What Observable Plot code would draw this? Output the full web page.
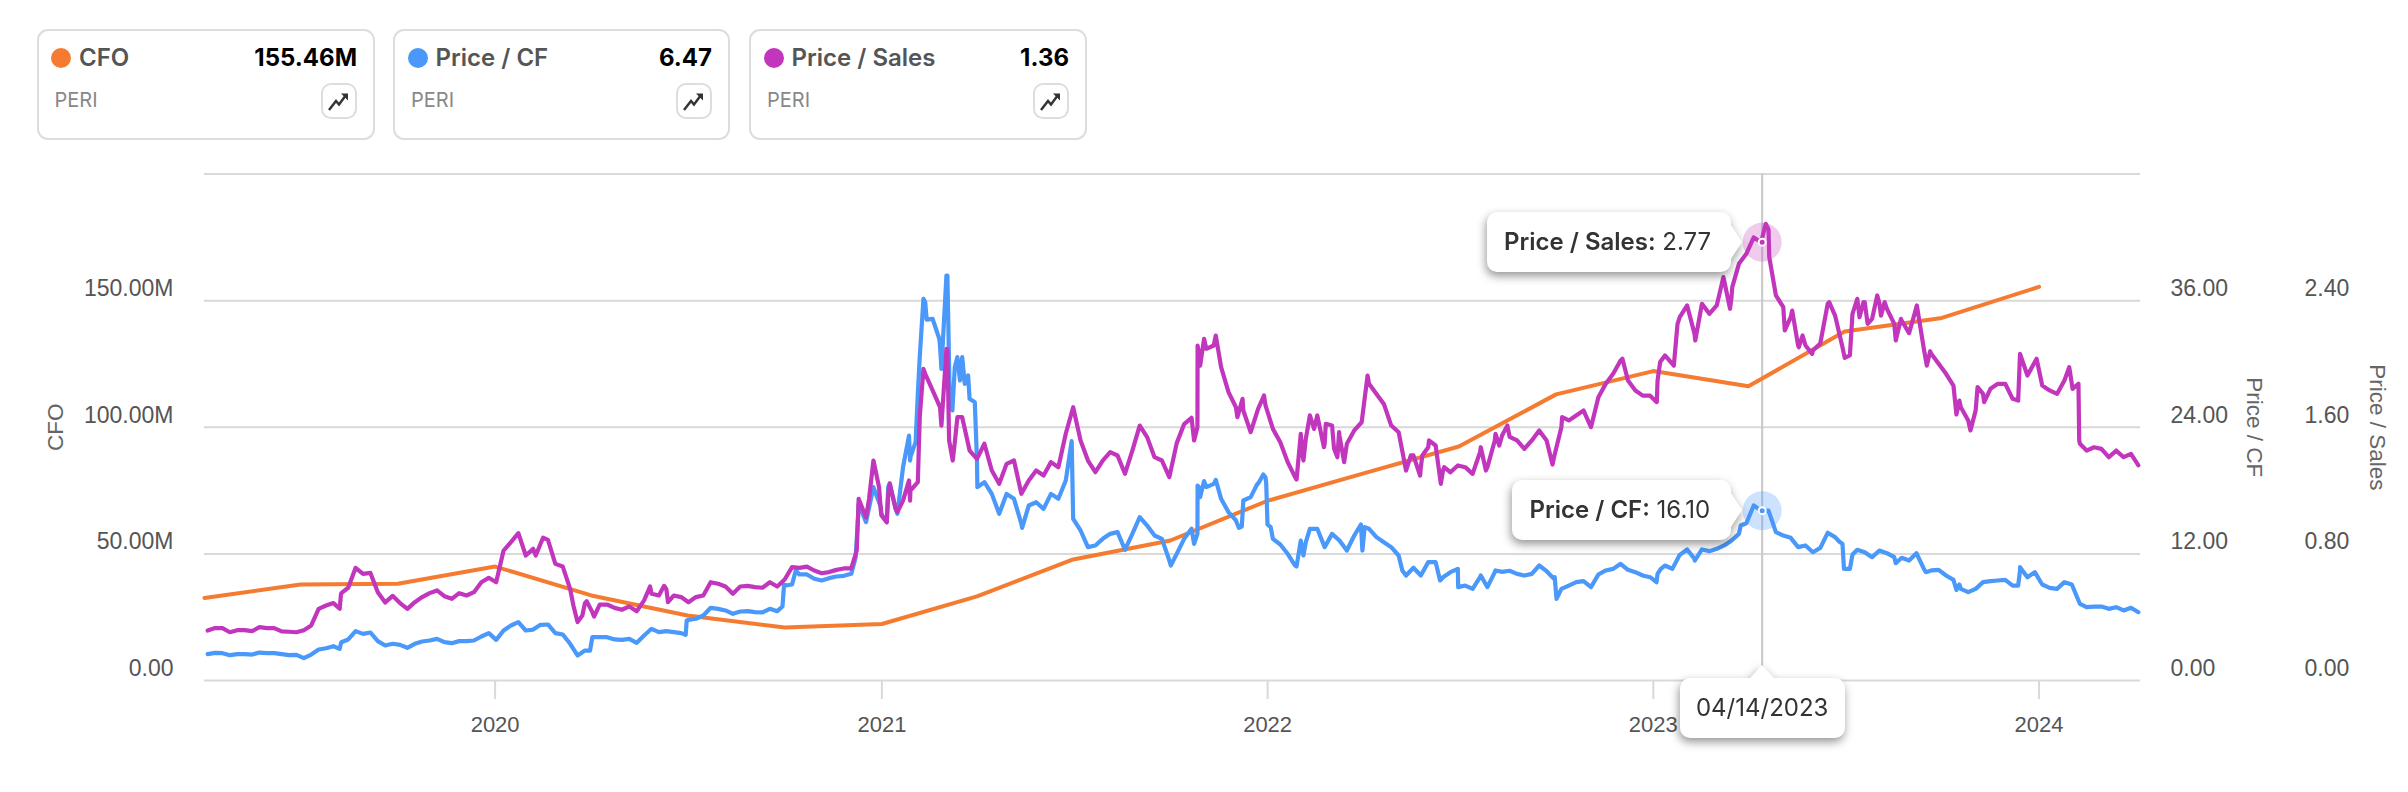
<!DOCTYPE html>
<html><head><meta charset="utf-8">
<script src="https://cdn.jsdelivr.net/npm/d3@7"></script>
<script src="https://cdn.jsdelivr.net/npm/@observablehq/plot@0.6"></script>
<style>
html,body{margin:0;background:#fff;width:2408px;height:792px;overflow:hidden}
body{position:relative;font-family:Inter,sans-serif}
.card{position:absolute;top:29px;height:111px;box-sizing:border-box;border:2px solid #ddd;border-radius:11px;background:#fff}
.dot{position:absolute;left:12.5px;top:16.5px;width:20px;height:20px;border-radius:50%}
.name{position:absolute;left:40.5px;top:12px;font-size:24px;line-height:30px;font-weight:600;color:#555}
.val{position:absolute;right:16px;top:12px;font-size:24px;line-height:30px;font-weight:700;color:#000}
.tk{position:absolute;left:16px;top:56px;font-size:20px;line-height:26px;color:#888}
.btn{position:absolute;right:16px;top:52px;width:36px;height:36px;box-sizing:border-box;border:2px solid #ddd;border-radius:10px;background:#fff}
.btn svg{position:absolute;left:4px;top:4px}
#chart{position:absolute;left:0;top:150px;width:2408px}
#chart svg{display:block}
.tip{position:absolute;height:60px;box-sizing:border-box;background:#fff;border-radius:10px;color:#333;font-size:24px;line-height:60px;white-space:nowrap;filter:drop-shadow(-1px 4px 5px rgba(0,0,0,.42));}
.tip b{font-weight:600}
.tip.side::after{content:"";position:absolute;right:-11px;top:13px;border-top:17px solid transparent;border-bottom:17px solid transparent;border-left:11px solid #fff}
.tip.date::after{content:"";position:absolute;left:50%;margin-left:-12px;top:-13px;border-left:12px solid transparent;border-right:12px solid transparent;border-bottom:13px solid #fff}
</style></head><body>
<div id="cards"></div>
<div id="chart"></div>
<script>
const cardTitles = ["CFO", "Price / CF", "Price / Sales"];
const cardValues = ["155.46M", "6.47", "1.36"];
const cardTicker = "PERI";
const cfoColor = "#f47b30", cfColor = "#4a98fa", psColor = "#c136bc";

const cfoDates = ["2019-04-01","2019-07-01","2019-10-01","2020-01-01","2020-04-01","2020-07-01","2020-10-01","2021-01-01","2021-04-01","2021-07-01","2021-10-01","2022-01-01","2022-04-01","2022-07-01","2022-10-01","2023-01-01","2023-04-01","2023-07-01","2023-10-01","2024-01-01"];
const cfoValues = [32.6,37.9,38.2,45,33.6,25.7,20.9,22.3,33.2,47.8,55.3,71,81.7,92.4,113,122.2,116.2,137.8,143.2,155.46];

// weekly readings
const ps2019 = [.316,.331,.331,.305,.318,.318,.312,.337,.331,.331,.31,.308,.305,.318,.348,.453,.474,.489,.537,.586,.712,.674,.68,.558,.493,.535,.489,.453,.495,.527,.552,.569,.533,.516,.552,.537,.558,.621,.649,.621,.821,.874,.931,.79,.832];
const ps2020 = [.864,.889,.737,.72,.579,.369,.489,.432,.48,.48,.459,.447,.468,.438,.506,.548,.537,.579,.537,.527,.495,.527,.537,.621,.611,.594,.548,.594,.598,.59,.586,.621,.594,.638,.716,.712,.72,.695,.678,.685,.699,.708,.708,1.148];
const ps2021 = [1.03,1.39,1.074,1.18,1.085,1.137,1.2,1.253,1.938,1.833,1.727,2.09,1.506,1.664,1.453,1.4,1.496,1.327,1.243,1.369,1.39,1.18,1.264,1.327,1.295,1.38,1.348,1.559,1.727,1.517,1.39,1.316,1.39,1.443,1.422,1.306,1.453,1.611,1.538,1.411,1.39,1.285,1.5,1.62,1.66];
const ps2022 = [2.064,2.096,2.117,1.98,1.822,1.727,1.706,1.569,1.717,1.738,1.59,1.506,1.38,1.285,1.432,1.675,1.675,1.496,1.611,1.548,1.496,1.58,1.632,1.875,1.811,1.748,1.611,1.569,1.327,1.422,1.348,1.474,1.485,1.327,1.316,1.359,1.348,1.306,1.443,1.348,1.517];
const ps2023 = [1.55,1.54,1.517,1.464,1.517,1.58,1.517,1.411,1.601,1.643,1.675,1.706,1.601,1.79,1.875,1.938,2.022,1.896,1.833,1.8,1.8,1.896,2.054,2.001,2.296,2.37,2.19,2.38,2.317,2.37,2.528,2.422,2.633,2.696,2.8,2.77,2.85,2.433,2.359,2.296,2.117,2.117,2.085];
const ps2024 = [2.13,2.38,2.306,2.106,2.054,2.412,2.391,2.285,2.38,2.349,2.254,2.275,2.195,2.359,2.096,2.064,2.001,1.938,1.864,1.727,1.643,1.706,1.811,1.843,1.875,1.875,1.78,2.064,1.927,2.012,1.864,1.833,1.811,1.896,1.875,1.517,1.453,1.474,1.464,1.411,1.453,1.411,1.432,1.36];

const cf2019 = [2.5,2.62,2.59,2.4,2.5,2.5,2.46,2.65,2.59,2.59,2.5,2.4,2.43,2.12,2.46,2.94,3.06,3.25,3.48,3.89,4.68,4.42,4.55,3.73,3.32,3.48,3.38,3.1,3.48,3.7,3.79,3.95,3.63,3.54,3.73,3.73,3.79,4.17,4.49,3.85,4.74,5.21,5.53,4.74,4.83];
const cf2020 = [5.28,5.31,4.49,4.36,3.48,2.37,2.84,4.11,4.11,4.11,3.89,3.85,3.95,3.57,4.27,4.9,4.58,4.68,4.58,4.49,5.75,5.85,6.16,6.89,6.79,6.64,6.32,6.54,6.57,6.48,6.45,6.79,6.57,9,9.1,10.05,10.05,9.64,9.48,9.7,9.86,9.92,10.11,16.75];
const cf2021 = [15.01,18.33,16.43,18.33,16.27,20.22,21.17,27.17,35.86,34.28,31.75,38.39,29.7,30.65,26.7,20.85,18.8,17.69,15.8,17.69,17.22,14.85,16.59,16.9,16.27,17.69,17.22,18.96,15.32,14.22,12.64,12.8,13.43,13.9,14.06,12.39,13.9,15.48,14.69,13.74,13.43,11.37,12,13.43,14.38];
const cf2022 = [18.33,18.33,18.64,17.22,15.96,15.17,17.06,17.38,18.64,19.27,13.43,12.89,12.01,10.9,12.32,14.38,14.38,12.64,13.9,13.27,12.32,13.74,13.59,14.38,13.59,13.11,12.64,11.85,9.95,10.68,9.95,11.22,11.22,9.79,10.27,10.58,9,8.69,9.79,8.85,10.27];
const cf2023 = [10.3,10.4,10.11,9.95,10.11,10.9,10.36,9.64,8.69,9,9.32,9.42,8.85,10.05,10.43,10.58,11.06,10.49,10.27,9.95,9.79,10.11,10.9,10.58,11.91,12.42,11.53,12.42,12.26,12.48,12.8,13.27,13.9,14.91,16.59,16.1,16.1,14.06,13.74,13.52,12.64,12.8,12.16];
const cf2024 = [12.57,14,13.59,12.95,10.58,12.39,12.16,11.69,12.32,12.07,11.69,11.63,11.37,12.07,10.58,10.43,10.49,9.95,9.54,8.69,8.37,8.69,9.32,9.42,9.48,9.54,9,10.43,9.79,10.27,9.1,8.78,8.69,9.32,9.1,7.42,6.95,7.01,7.01,6.79,6.95,6.64,6.89,6.47];

// readings between weeks (steps and spikes); position counted in weeks from the first reading
const psExtraWeeks = [17.85,18.07,44.35,45.34,49.44,50.65,51.24,52.23,59.8,61.7,62.23,87.74,87.92,89.41,90.76,91.08,91.8,92.2,93.24,94.81,94.95,96.26,96.76,99.19,99.87,100.23,100.72,101.35,133.35,133.8,133.82,134.16,134.7,136.28,139.2,139.9,142.8,147.2,147.77,148.13,148.45,149.57,150.9,151.15,152.27,152.72,152.95,153.63,156.8,162.65,163.9,164.2,165.1,166.7,167.15,172.1,172.8,174.1,174.6,175.7,181.8,183.1,191.25,195.9,196.35,198.2,198.7,201.1,204.9,205.8,206.1,210.63,211.1,213.2,214.2,215.1,215.6,216.9,219.2,221.3,222.35,223.3,223.84,224.4,225.7,226.2,226.7,228.2,228.9,231.05,232.4,232.85,236.4,236.8,238.3,239.26,240.15,244.75,247.24,251.65,252.1,252.9,253.1];
const psExtraValues = [.453,.552,.79,.902,.474,.411,.501,.404,.594,.598,.495,.82,1.043,1.148,1.222,1.043,1,1.243,1.064,1.264,1.137,1.664,1.969,1.611,2.096,1.517,1.39,1.664,1.517,1.601,2.117,1.99,2.159,2.18,1.664,1.78,1.801,1.27,1.559,1.39,1.527,1.59,1.474,1.622,1.464,1.411,1.569,1.38,1.927,1.422,1.295,1.422,1.517,1.243,1.348,1.474,1.327,1.559,1.485,1.611,1.365,1.664,2.033,1.759,2.012,1.99,2.254,2.149,2.549,2.349,2.486,2.886,2.675,2.212,2.338,2.106,2.18,2.064,2.391,2.039,2.317,2.296,2.391,2.254,2.433,2.306,2.391,2.149,2.285,2.37,1.99,2.081,1.681,1.769,1.58,1.854,1.759,1.769,2.033,1.98,1.843,1.875,1.496];
const cfExtraWeeks = [17.85,18.07,51.69,64.62,64.76,77.7,77.92,79.5,87.6,87.92,91.08,91.8,92.2,93.24,94.81,94.95,95.7,96.26,96.76,97.2,98.9,99.19,99.87,100.3,100.67,101.35,101.7,102.35,102.8,103.7,104.05,110.1,116.8,130.2,133.35,133.8,133.82,134.16,134.7,136.28,139.4,139.8,141.9,142.7,143.1,143.27,143.7,147.2,147.77,148.13,148.45,155.9,156.1,156.4,161.5,166.6,169.05,172.1,174.1,182.1,182.34,195.86,196.44,201.03,207.25,220.55,221.2,222.35,228.2,232.27,236.4,236.8,244.75,245,253.1];
const cfExtraValues = [3,3.63,2.84,4.33,5.69,7.01,9.1,10.43,11.69,15.48,15.8,15,18.7,15.8,23.22,20.85,22.59,30.65,36.18,34.2,32.39,29.54,38.39,27.17,25.59,30.65,28.44,28.12,28.91,26.38,18.33,14.47,22.69,10.9,12.95,13.9,18.48,17.38,18.9,19.02,14.47,14.6,18.64,19.53,18.64,14.79,14.53,10.81,13.27,11.85,13.11,14.79,12.32,14.53,10.43,9.48,8.85,9.95,10.43,9.79,7.74,9.32,10.58,11.37,14.69,13.18,10.58,11.94,11.12,10.27,8.59,9.1,9,10.74,7.27];

const cfoTicks = [0, 50, 100, 150];
const cfTicks = [0, 12, 24, 36];
const psTicks = [0, 0.8, 1.6, 2.4];
const gridValues = [0, 50, 100, 150, 200];
const yearTicks = ["2020-01-01","2021-01-01","2022-01-01","2023-01-01","2024-01-01"];
const hoverDate = "2023-04-14", hoverLabel = "04/14/2023", hoverPS = 2.77, hoverCF = 16.10;

// the three axes share one frame: every series is expressed in CFO millions
const psToCfo = 200 / 3.2, cfToCfo = 200 / 48;

const firstDay = new Date("2019-04-04");
const dates = d3.utcThursday.range(firstDay, new Date("2024-04-06"));
const weekDate = w => new Date(+firstDay + w * 7 * 864e5);
const merged = (weekly, extraWeeks, extraValues) => d3.sort([
  ...weekly.map((v, i) => ({date: dates[i], v})),
  ...extraValues.map((v, i) => ({date: weekDate(extraWeeks[i]), v}))
], d => d.date);
const psRows = merged([...ps2019, ...ps2020, ...ps2021, ...ps2022, ...ps2023, ...ps2024], psExtraWeeks, psExtraValues);
const cfRows = merged([...cf2019, ...cf2020, ...cf2021, ...cf2022, ...cf2023, ...cf2024], cfExtraWeeks, cfExtraValues);
const quarterly = cfoDates.map((d, i) => ({date: new Date(d), cfo: cfoValues[i]}));
const hover = new Date(hoverDate);

const icon = `<svg width="24" height="24" viewBox="0 0 24 24"><path d="M2 21 L9 12 L12 15.5 L19 6" fill="none" stroke="#333" stroke-width="2.4"/><path d="M14 4.5 H21 V11.5 Z" fill="#333"/></svg>`;
const lefts = [36.5, 393, 749], widths = [338.5, 337, 338];
const colors = [cfoColor, cfColor, psColor];
document.getElementById("cards").innerHTML = cardTitles.map((t, i) =>
  `<div class="card" style="left:${lefts[i]}px;width:${widths[i]}px"><span class="dot" style="background:${colors[i]}"></span><span class="name">${t}</span><span class="val">${cardValues[i]}</span><span class="tk">${cardTicker}</span><span class="btn">${icon}</span></div>`).join("");

const axisFont = "'Liberation Sans', Arial, sans-serif", tickColor = "#555", gridColor = "#d9d9d9", titleColor = "#666";
const fixed = d3.format(".2f");
const titleMark = (text, anchor, rotate, dx) => Plot.text([text], {frameAnchor: anchor, textAnchor: "middle", rotate, dx, fontSize: 22.5, fill: titleColor, fontFamily: axisFont});

const plot = Plot.plot({
  width: 2408, height: 640,
  marginLeft: 204, marginRight: 268, marginTop: 23.6, marginBottom: 110,
  style: {background: "transparent", fontFamily: axisFont},
  x: {type: "utc", domain: [new Date("2019-04-01"), new Date("2024-04-06")]},
  y: {domain: [0, 200]},
  marks: [
    Plot.ruleY(gridValues, {stroke: gridColor, strokeWidth: 2}),
    Plot.axisX({ticks: yearTicks.map(d => new Date(d)), tickFormat: d3.utcFormat("%Y"), tickSize: 19, tickPadding: 17, stroke: gridColor, strokeWidth: 2, fill: tickColor, fontSize: 22, label: null}),
    Plot.axisY({ticks: cfoTicks, anchor: "left", tickSize: 0, tickPadding: 31, dy: -12, fill: tickColor, fontSize: 23, label: null, tickFormat: d => d === 0 ? fixed(d) : fixed(d) + "M"}),
    Plot.axisY({ticks: cfTicks.map(d => d * cfToCfo), anchor: "right", tickSize: 0, tickPadding: 30, dy: -12, fill: tickColor, fontSize: 23, label: null, tickFormat: d => fixed(d / cfToCfo)}),
    Plot.axisY({ticks: psTicks.map(d => d * psToCfo), anchor: "right", tickSize: 0, tickPadding: 164, dy: -12, fill: tickColor, fontSize: 23, label: null, tickFormat: d => fixed(d / psToCfo)}),
    titleMark("CFO", "left", -90, -149),
    titleMark("Price / CF", "right", 90, 114),
    titleMark("Price / Sales", "right", 90, 237),
    Plot.ruleX([hover], {y1: 0, y2: 200, stroke: "#c8c8c8", strokeWidth: 2}),
    Plot.line(quarterly, {x: "date", y: "cfo", stroke: cfoColor, strokeWidth: 4, curve: "linear"}),
    Plot.line(cfRows, {x: "date", y: d => d.v * cfToCfo, stroke: cfColor, strokeWidth: 4.2, curve: "linear"}),
    Plot.line(psRows, {x: "date", y: d => d.v * psToCfo, stroke: psColor, strokeWidth: 4.2, curve: "linear"}),
    Plot.dot([hover], {x: d => d, y: () => hoverPS * psToCfo, r: 19.5, fill: psColor, fillOpacity: 0.26}),
    Plot.dot([hover], {x: d => d, y: () => hoverCF * cfToCfo, r: 19.5, fill: cfColor, fillOpacity: 0.28}),
    Plot.dot([hover], {x: d => d, y: () => hoverPS * psToCfo, r: 3.5, fill: psColor, stroke: "#fff", strokeWidth: 2}),
    Plot.dot([hover], {x: d => d, y: () => hoverCF * cfToCfo, r: 3.5, fill: cfColor, stroke: "#fff", strokeWidth: 2})
  ]
});
const chart = document.getElementById("chart");
chart.append(plot);

// tooltips sit where the plot's own scales put the hovered values
const sx = plot.scale("x"), sy = plot.scale("y");
const hx = sx.apply(hover);
function sideTip(label, value, cfoY, padL, padR) {
  const el = document.createElement("div");
  el.className = "tip side";
  el.innerHTML = `<b>${label}:</b> ${value}`;
  el.style.paddingLeft = padL + "px";
  el.style.paddingRight = padR + "px";
  el.style.right = (2408 - (hx - 30.5)) + "px";
  el.style.top = (sy.apply(cfoY) - 30) + "px";
  chart.append(el);
}
sideTip(cardTitles[2], hoverPS.toFixed(2), hoverPS * psToCfo, 17, 20);
sideTip(cardTitles[1], hoverCF.toFixed(2), hoverCF * cfToCfo, 18, 21);
const dt = document.createElement("div");
dt.className = "tip date";
dt.textContent = hoverLabel;
dt.style.cssText = `left:${hx - 82}px;top:${sy.apply(0) - 2}px;width:165px;text-align:center`;
chart.append(dt);
</script>
</body></html>
